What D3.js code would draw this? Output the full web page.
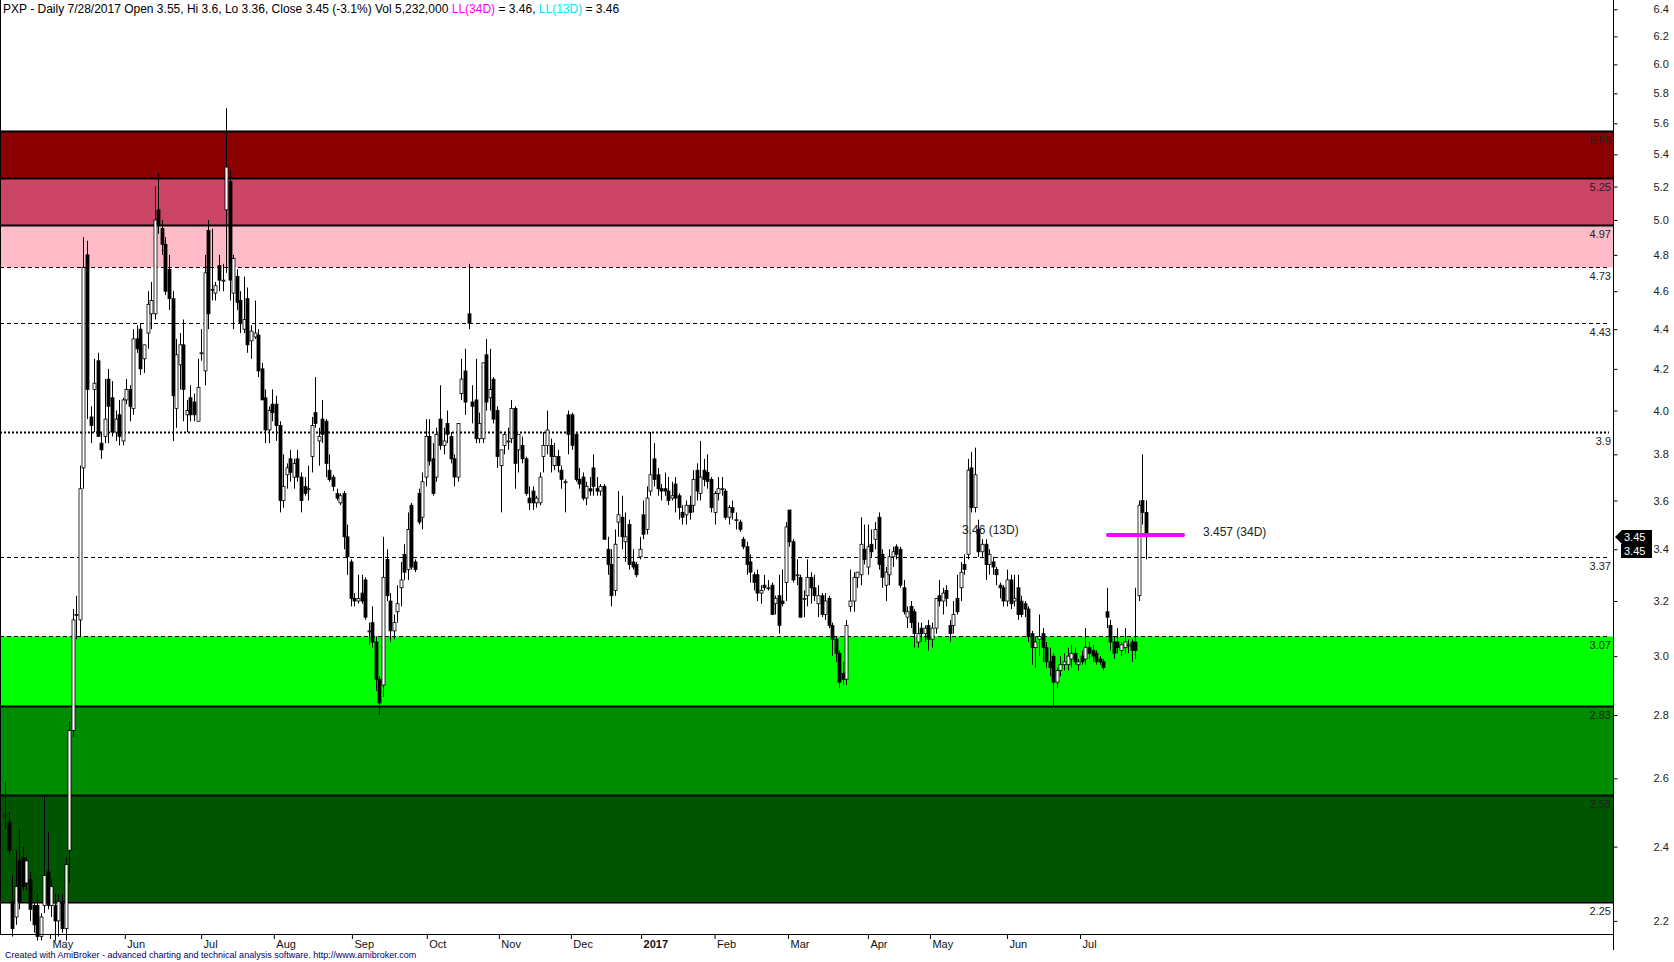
<!DOCTYPE html>
<html><head><meta charset="utf-8">
<script src="https://cdn.jsdelivr.net/npm/d3@7/dist/d3.min.js"></script>
<style>body{margin:0;background:#fff}svg{display:block;font-family:Arial,"Liberation Sans",sans-serif}</style>
</head><body><svg id="c" width="1674" height="962"></svg>
<script>
// ---- data ----
const ohlc = [
[2.49,2.59,2.45,2.49],[2.47,2.5,2.38,2.39],[2.25,2.32,2.16,2.18],[2.21,2.39,2.19,2.29],[2.36,2.45,2.23,2.25],
[2.37,2.40,2.28,2.29],[2.30,2.37,2.28,2.36],[2.31,2.33,2.20,2.23],[2.24,2.25,2.17,2.19],[2.24,2.27,2.15,2.16],
[2.16,2.22,2.15,2.21],[2.24,2.55,2.22,2.32],[2.33,2.44,2.23,2.24],[2.24,2.31,2.21,2.29],[2.24,2.27,2.15,2.20],
[2.20,2.27,2.16,2.25],[2.25,2.27,2.17,2.18],[2.18,2.37,2.15,2.35],[2.39,2.78,2.30,2.75],[2.75,3.17,2.73,3.13],
[3.15,3.22,3.06,3.15],[3.13,3.75,3.07,3.65],[3.74,4.90,3.65,4.73],[4.80,4.88,3.96,4.10],[3.97,4.02,3.85,3.93],
[4.10,4.25,3.90,4.13],[4.24,4.28,3.88,3.88],[3.85,3.90,3.78,3.82],[3.88,4.15,3.85,3.96],[4.15,4.20,3.85,4.02],
[4.06,4.14,3.88,3.90],[3.90,4.00,3.86,3.96],[3.98,4.05,3.84,3.88],[3.86,4.06,3.84,4.05],[4.05,4.15,4.03,4.10],
[4.10,4.12,3.95,4.02],[4.01,4.40,3.98,4.35],[4.35,4.42,4.28,4.30],[4.40,4.43,4.17,4.20],[4.25,4.32,4.18,4.32],
[4.38,4.60,4.30,4.53],[4.48,4.65,4.40,4.55],[4.48,5.20,4.45,5.00],[5.06,5.28,4.92,4.97],[4.95,5.00,4.80,4.86],
[4.86,4.90,4.58,4.60],[4.72,4.80,4.50,4.56],[4.56,4.60,3.86,4.07],[4.01,4.35,3.92,4.27],[4.22,4.38,4.10,4.32],
[4.32,4.45,3.95,4.10],[3.98,4.05,3.90,4.00],[4.06,4.12,3.95,3.98],[4.04,4.08,3.95,3.98],[3.95,4.25,3.95,4.11],
[4.28,4.40,4.24,4.28],[4.19,4.80,4.12,4.70],[4.94,5.00,4.40,4.48],[4.61,4.95,4.55,4.61],[4.59,4.65,4.55,4.63],
[4.74,4.80,4.60,4.66],[4.66,4.75,4.60,4.66],[5.06,5.70,4.70,5.32],[5.23,5.30,4.55,4.66],[4.59,4.80,4.40,4.78],
[4.68,4.72,4.50,4.54],[4.55,4.60,4.38,4.43],[4.40,4.68,4.38,4.45],[4.56,4.62,4.28,4.32],[4.34,4.42,4.25,4.39],
[4.36,4.55,4.35,4.38],[4.37,4.40,4.16,4.19],[4.20,4.23,4.05,4.05],[4.06,4.10,3.85,3.91],[3.91,4.02,3.85,4.00],
[4.03,4.10,3.95,3.99],[4.03,4.07,3.86,3.93],[3.93,3.95,3.55,3.60],[3.60,3.80,3.57,3.66],[3.71,3.76,3.65,3.74],
[3.78,3.82,3.68,3.72],[3.70,3.78,3.65,3.76],[3.78,3.82,3.68,3.70],[3.70,3.72,3.55,3.60],[3.66,3.70,3.62,3.63],
[3.65,3.75,3.60,3.65],[3.79,3.97,3.72,3.93],[3.99,4.16,3.92,3.94],[3.86,3.92,3.75,3.88],[3.96,4.05,3.85,3.89],
[3.95,3.96,3.70,3.76],[3.73,3.80,3.68,3.69],[3.70,3.71,3.64,3.66],[3.63,3.65,3.60,3.61],[3.59,3.63,3.58,3.62],
[3.63,3.64,3.40,3.45],[3.45,3.50,3.30,3.37],[3.35,3.36,3.18,3.21],[3.21,3.23,3.18,3.20],[3.20,3.30,3.19,3.21],
[3.23,3.30,3.19,3.20],[3.28,3.29,3.13,3.14],[3.09,3.12,3.04,3.09],[3.12,3.18,3.03,3.05],[3.05,3.07,2.88,2.92],
[2.92,2.93,2.80,2.84],[2.90,3.45,2.86,3.29],[3.36,3.40,3.20,3.22],[3.20,3.23,3.05,3.09],[3.09,3.15,3.06,3.12],
[3.16,3.26,3.12,3.19],[3.25,3.35,3.18,3.28],[3.38,3.42,3.28,3.31],[3.32,3.55,3.28,3.48],[3.58,3.59,3.32,3.33],
[3.35,3.36,3.31,3.32],[3.63,3.65,3.50,3.51],[3.53,3.72,3.48,3.68],[3.70,3.96,3.66,3.88],[3.88,3.96,3.75,3.77],
[3.78,3.85,3.62,3.63],[3.70,3.92,3.68,3.89],[3.96,4.12,3.82,3.84],[3.84,3.92,3.80,3.86],[3.94,4.00,3.85,3.89],
[3.88,3.90,3.76,3.78],[3.78,3.80,3.66,3.70],[3.70,3.94,3.68,3.94],[4.08,4.25,4.05,4.15],[4.19,4.30,3.98,4.04],
[4.48,4.75,4.40,4.43],[4.04,4.12,3.94,4.02],[4.05,4.25,3.85,3.87],[3.87,3.99,3.85,3.94],[3.87,4.23,3.85,4.23],
[4.27,4.35,4.00,4.04],[4.06,4.30,4.00,4.10],[4.15,4.16,3.94,3.96],[4.00,4.02,3.74,3.79],[3.75,3.82,3.55,3.82],
[3.84,3.90,3.80,3.89],[3.86,3.92,3.82,3.86],[3.87,4.05,3.85,4.01],[4.01,4.02,3.65,3.76],[3.82,3.88,3.72,3.89],
[3.84,3.88,3.76,3.78],[3.78,3.79,3.62,3.63],[3.61,3.66,3.56,3.59],[3.64,3.66,3.56,3.59],[3.59,3.62,3.57,3.61],
[3.59,3.72,3.58,3.70],[3.79,3.90,3.72,3.84],[3.84,4.00,3.80,3.91],[3.84,3.87,3.72,3.79],[3.75,3.85,3.73,3.79],
[3.79,3.82,3.72,3.75],[3.73,3.75,3.65,3.69],[3.68,3.69,3.55,3.68],[3.98,4.00,3.80,3.89],[3.98,3.99,3.82,3.84],
[3.89,3.90,3.68,3.69],[3.69,3.74,3.65,3.67],[3.70,3.72,3.60,3.61],[3.61,3.68,3.58,3.66],[3.65,3.70,3.62,3.64],
[3.74,3.80,3.62,3.66],[3.65,3.70,3.62,3.64],[3.64,3.67,3.62,3.66],[3.66,3.67,3.44,3.44],[3.40,3.45,3.30,3.34],
[3.34,3.40,3.18,3.22],[3.24,3.48,3.22,3.42],[3.51,3.64,3.45,3.54],[3.53,3.62,3.40,3.45],[3.43,3.55,3.35,3.45],
[3.50,3.52,3.32,3.34],[3.35,3.40,3.32,3.33],[3.34,3.35,3.29,3.30],[3.37,3.45,3.36,3.40],[3.54,3.60,3.44,3.46],
[3.48,3.66,3.46,3.61],[3.64,3.90,3.62,3.71],[3.78,3.85,3.66,3.69],[3.71,3.74,3.62,3.65],[3.65,3.67,3.60,3.64],
[3.65,3.72,3.62,3.64],[3.64,3.70,3.58,3.60],[3.61,3.68,3.60,3.62],[3.67,3.70,3.55,3.61],[3.62,3.63,3.52,3.57],
[3.55,3.58,3.50,3.53],[3.54,3.60,3.50,3.58],[3.58,3.62,3.52,3.55],[3.58,3.73,3.55,3.69],[3.73,3.76,3.60,3.64],
[3.63,3.86,3.60,3.70],[3.73,3.78,3.66,3.69],[3.72,3.80,3.65,3.68],[3.69,3.70,3.55,3.57],[3.55,3.64,3.50,3.63],
[3.63,3.70,3.60,3.65],[3.65,3.70,3.62,3.65],[3.64,3.65,3.52,3.53],[3.53,3.58,3.50,3.57],[3.57,3.60,3.52,3.55],
[3.52,3.55,3.48,3.52],[3.51,3.52,3.47,3.48],[3.44,3.45,3.40,3.41],[3.41,3.43,3.30,3.34],[3.35,3.38,3.27,3.31],
[3.30,3.31,3.24,3.27],[3.30,3.32,3.20,3.23],[3.23,3.26,3.19,3.24],[3.26,3.30,3.24,3.25],[3.25,3.28,3.24,3.25],
[3.26,3.27,3.15,3.15],[3.19,3.22,3.15,3.21],[3.22,3.30,3.08,3.11],[3.20,3.32,3.18,3.19],[3.27,3.51,3.20,3.49],
[3.56,3.56,3.41,3.43],[3.43,3.44,3.27,3.28],[3.30,3.36,3.26,3.30],[3.29,3.30,3.14,3.14],[3.21,3.24,3.14,3.21],
[3.22,3.36,3.18,3.29],[3.29,3.31,3.19,3.25],[3.25,3.30,3.20,3.22],[3.19,3.26,3.14,3.22],[3.22,3.23,3.14,3.15],
[3.15,3.23,3.13,3.20],[3.21,3.22,3.10,3.11],[3.11,3.12,3.00,3.06],[3.06,3.07,2.98,3.01],[3.01,3.02,2.89,2.91],
[2.94,2.98,2.90,2.92],[2.92,3.13,2.90,3.11],[3.18,3.32,3.16,3.20],[3.20,3.31,3.16,3.29],[3.29,3.31,3.25,3.31],
[3.30,3.53,3.26,3.42],[3.40,3.50,3.34,3.36],[3.33,3.50,3.30,3.41],[3.42,3.48,3.37,3.39],[3.44,3.51,3.40,3.48],
[3.53,3.55,3.32,3.34],[3.38,3.40,3.25,3.29],[3.26,3.33,3.20,3.31],[3.30,3.40,3.26,3.37],[3.37,3.41,3.33,3.39],
[3.41,3.42,3.36,3.38],[3.40,3.41,3.25,3.26],[3.25,3.28,3.15,3.16],[3.14,3.18,3.10,3.16],[3.18,3.20,3.10,3.12],
[3.16,3.17,3.03,3.08],[3.05,3.12,3.03,3.08],[3.10,3.12,3.05,3.08],[3.08,3.11,3.05,3.10],[3.11,3.13,3.02,3.06],
[3.06,3.12,3.03,3.10],[3.10,3.21,3.08,3.21],[3.22,3.28,3.18,3.20],[3.20,3.25,3.15,3.23],[3.24,3.26,3.18,3.21],
[3.11,3.13,3.05,3.08],[3.11,3.20,3.08,3.15],[3.21,3.30,3.15,3.16],[3.25,3.35,3.20,3.31],[3.34,3.38,3.30,3.32],
[3.38,3.78,3.36,3.73],[3.74,3.81,3.55,3.57],[3.57,3.83,3.55,3.71],[3.48,3.52,3.37,3.39],[3.39,3.44,3.37,3.42],
[3.42,3.44,3.28,3.34],[3.34,3.40,3.30,3.38],[3.35,3.37,3.30,3.33],[3.32,3.33,3.26,3.30],[3.26,3.27,3.21,3.25],
[3.25,3.26,3.18,3.20],[3.20,3.32,3.18,3.28],[3.28,3.30,3.17,3.19],[3.20,3.30,3.18,3.21],[3.25,3.30,3.13,3.15],
[3.20,3.22,3.14,3.15],[3.19,3.20,3.14,3.17],[3.17,3.18,3.05,3.07],[3.08,3.09,2.97,3.03],[3.03,3.07,2.96,3.05],
[3.06,3.15,3.00,3.07],[3.08,3.10,2.98,3.03],[3.03,3.05,2.96,2.98],[2.98,3.03,2.93,2.96],[3.00,3.01,2.83,2.91],
[2.91,2.96,2.89,2.95],[2.95,3.00,2.93,2.97],[2.97,3.01,2.95,2.98],[2.97,3.03,2.95,3.00],[2.99,3.04,2.96,3.01],
[3.01,3.03,2.97,2.98],[2.97,2.99,2.95,2.98],[3.00,3.02,2.97,2.98],[2.99,3.10,2.97,3.03],[3.03,3.05,2.99,3.01],
[3.02,3.04,2.98,3.00],[3.01,3.02,2.97,2.98],[2.99,3.00,2.97,2.98],[2.98,2.99,2.95,2.96],[3.16,3.25,3.10,3.14],
[3.11,3.13,3.02,3.05],[3.05,3.07,2.99,3.01],[3.05,3.10,3.01,3.03],[3.02,3.05,3.00,3.04],[3.03,3.10,3.01,3.05],
[3.04,3.06,3.01,3.04],[3.05,3.06,2.98,3.02],[3.05,3.25,2.99,3.02],[3.22,3.60,3.20,3.58],[3.60,3.80,3.50,3.55],
[3.55,3.60,3.36,3.45]
];
const monthLabels = ["May","Jun","Jul","Aug","Sep","Oct","Nov","Dec","2017","Feb","Mar","Apr","May","Jun","Jul"];
const monthIndex  = [12.6,33.6,55,75.4,97.3,118.3,138.5,158.7,178.4,199,219.6,242,259.4,281,301.5];
const yTicks = [2.2,2.4,2.6,2.8,3.0,3.2,3.4,3.6,3.8,4.0,4.2,4.4,4.6,4.8,5.0,5.2,5.4,5.6,5.8,6.0,6.2,6.4];
const bandLow  = [5.25,4.97,4.73,2.83,2.55,2.25];
const bandHigh = [5.55,5.25,4.97,3.07,2.83,2.55];
const bandColor= ["#8b0000","#cc4466","#ffbbc8","#00ff00","#008c00","#005500"];
const levelValues = [5.55,5.25,4.97,4.73,4.43,3.9,3.37,3.07,2.83,2.55,2.25];
const levelLabels = ["5.55","5.25","4.97","4.73","4.43","3.9","3.37","3.07","2.83","2.55","2.25"];
const levelStyle  = ["solid","solid","solid","dash","dash","dot","dash","dash","solid","solid","solid"];
const ll34 = 3.457, ll13 = 3.46, lastClose = 3.45;

// ---- layout ----
const svg = d3.select("#c");
const W = 1613, H = 934;
const x = d3.scaleLinear().domain([0, ohlc.length-1]).range([5, 1146]);
const y = d3.scaleLog().domain([2.1665, 6.47]).range([H, 0]);

const g = svg.append("g");
g.selectAll("rect.band").data(bandLow).join("rect")
 .attr("x",0).attr("width",W).attr("y",(d,i)=>y(bandHigh[i])).attr("height",(d,i)=>y(d)-y(bandHigh[i]))
 .attr("fill",(d,i)=>bandColor[i]);

levelValues.forEach((v,i)=>{
  const st = levelStyle[i];
  const ln = g.append("line").attr("x1",0).attr("x2",st==="solid"?W:1609)
   .attr("y1",Math.round(y(v))+0.5).attr("y2",Math.round(y(v))+0.5).attr("stroke","#000");
  if(st==="solid") ln.attr("stroke-width",2);
  else if(st==="dash") ln.attr("stroke-dasharray","4,3");
  else ln.attr("stroke-width",2).attr("stroke-dasharray","2,2");
  g.append("text").attr("x",1611).attr("y",Math.round(y(v))+13).attr("text-anchor","end")
   .attr("font-size",11).attr("fill","#222").text(levelLabels[i]);
});

// candles
const c = g.selectAll("g.k").data(ohlc).join("g");
c.append("line").attr("x1",(d,i)=>Math.round(x(i))+0.5).attr("x2",(d,i)=>Math.round(x(i))+0.5)
 .attr("y1",d=>y(d[1])).attr("y2",d=>y(d[2])).attr("stroke","#000");
c.append("rect").attr("x",(d,i)=>Math.round(x(i))-1)
 .attr("y",d=>y(Math.max(d[0],d[3]))).attr("width",3)
 .attr("height",d=>Math.max(1,Math.abs(y(d[0])-y(d[3]))))
 .attr("fill",d=>d[3]>=d[0]?"#fff":"#000").attr("stroke","#000").attr("stroke-width",0.8);

// LL lines
g.append("line").attr("x1",1108).attr("x2",1183).attr("y1",y(ll34)).attr("y2",y(ll34))
 .attr("stroke","#ff00ff").attr("stroke-width",4).attr("stroke-linecap","round");
g.append("text").attr("x",1203).attr("y",y(ll34)+1).attr("font-size",12).attr("fill","#222").text(ll34+" (34D)");
g.append("text").attr("x",962).attr("y",y(ll13)+0).attr("font-size",12).attr("fill","#222").text(ll13+" (13D)");

// frame
svg.append("line").attr("x1",0.5).attr("x2",0.5).attr("y1",0).attr("y2",H).attr("stroke","#000");
svg.append("line").attr("x1",0).attr("x2",W).attr("y1",H+0.5).attr("y2",H+0.5).attr("stroke","#000");
svg.append("line").attr("x1",W+0.5).attr("x2",W+0.5).attr("y1",0).attr("y2",950).attr("stroke","#000");

// y axis
const ax = svg.append("g").attr("transform",`translate(${W+0.5},0)`)
 .call(d3.axisRight(y).tickValues(yTicks).tickFormat(d3.format(".1f")).tickSize(4).tickPadding(36));
ax.select(".domain").remove();
ax.selectAll("text").attr("font-size",11).attr("fill","#222").attr("font-family","Arial");

// x axis
const xa = svg.append("g").attr("transform",`translate(0,${H})`)
 .call(d3.axisBottom(x).tickValues(monthIndex).tickFormat((d,i)=>monthLabels[i]).tickSize(5).tickPadding(1));
xa.select(".domain").remove();
xa.selectAll("text").attr("font-size",11).attr("fill","#111").attr("text-anchor","start").attr("x",2)
 .attr("font-weight",(d,i)=>monthLabels[i]==="2017"?"bold":"normal");

// last price marker
const py = Math.round(y(lastClose));
svg.append("path").attr("d",`M${W+2},${py} L${W+9},${py-7} H${W+39} V${py+7} H${W+9} Z`).attr("fill","#000");
svg.append("rect").attr("x",W+8).attr("y",py+7).attr("width",31).attr("height",14).attr("fill","#000");
svg.append("text").attr("x",W+11).attr("y",py+4).attr("font-size",11).attr("fill","#fff").text("3.45");
svg.append("text").attr("x",W+11).attr("y",py+18).attr("font-size",11).attr("fill","#fff").text("3.45");

// title
const t = svg.append("text").attr("x",3).attr("y",13).attr("font-size",12).attr("fill","#000");
t.append("tspan").text("PXP - Daily 7/28/2017 Open 3.55, Hi 3.6, Lo 3.36, Close 3.45 (-3.1%) Vol 5,232,000 ");
t.append("tspan").attr("fill","#ff00ff").text("LL(34D)");
t.append("tspan").text(" = 3.46, ");
t.append("tspan").attr("fill","#00e5ff").text("LL(13D)");
t.append("tspan").text(" = 3.46");
svg.append("text").attr("x",5).attr("y",958).attr("font-size",9).attr("fill","#000066")
 .text("Created with AmiBroker - advanced charting and technical analysis software. http://www.amibroker.com");
</script></body></html>
